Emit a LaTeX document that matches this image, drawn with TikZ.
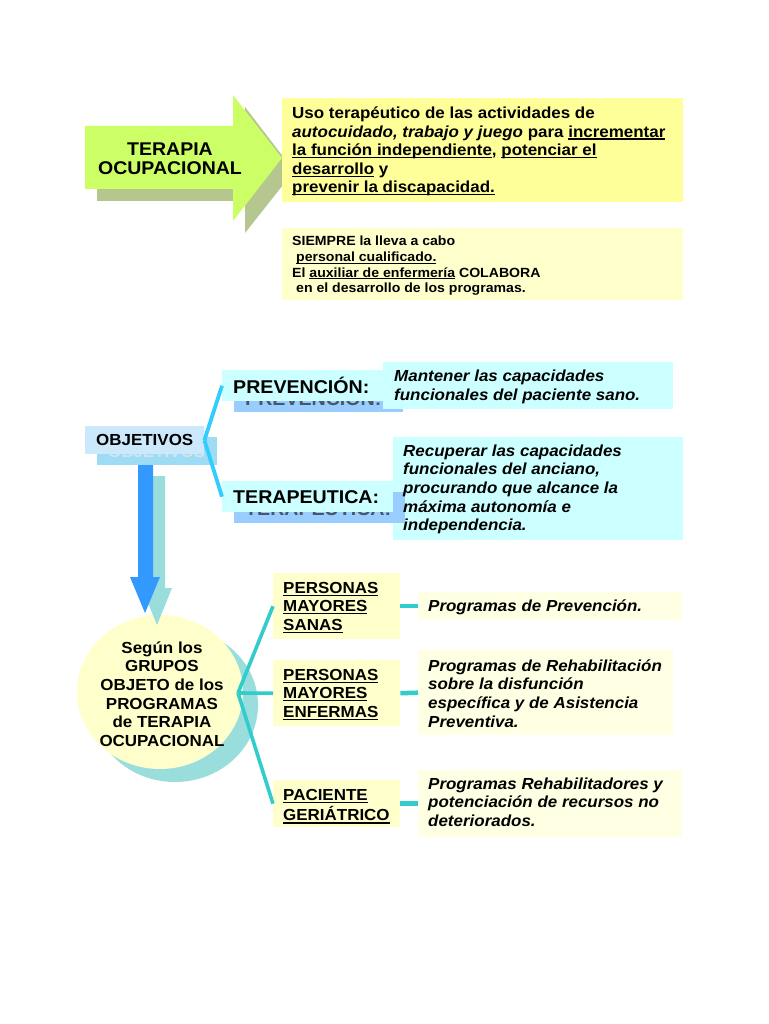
\documentclass[tikz,border=0pt]{standalone}
\usepackage{fontspec}
\setmainfont{Liberation Sans}[FakeStretch=1.06]
\usetikzlibrary{shapes.geometric}
\newcommand\ulx[1]{\leavevmode\setbox0=\hbox{#1}\rlap{\rule[-0.16em]{\wd0}{0.075em}}\box0\relax}
\definecolor{greenmain}{HTML}{CCFF66}
\definecolor{greenshadow}{HTML}{B5C68E}
\definecolor{yel}{HTML}{FFFF99}
\definecolor{paleyel}{HTML}{FFFFCC}
\definecolor{lightyel}{HTML}{FFFFE3}
\definecolor{objblue}{HTML}{CCE9FB}
\definecolor{objshadow}{HTML}{9EDCF6}
\definecolor{objshtext}{HTML}{D2E4EC}
\definecolor{cyanbox}{HTML}{CCFFFF}
\definecolor{prevshadow}{HTML}{99CCFF}
\definecolor{shtext}{HTML}{4A5568}
\definecolor{brkcol}{HTML}{33CCFF}
\definecolor{arrowblue}{HTML}{3399FF}
\definecolor{tealsh}{HTML}{99DDDD}
\definecolor{tealline}{HTML}{33CCCC}
\begin{document}
\begin{tikzpicture}[x=1pt,y=-1pt,
  panel/.style={draw=none, inner sep=0pt, anchor=north west},
  txt/.style={inner sep=0pt, align=left, anchor=north west, font=\bfseries\fontsize{16}{18.6}\selectfont},
  itxt/.style={inner sep=0pt, align=left, anchor=north west, font=\bfseries\itshape\fontsize{16}{18.6}\selectfont},
  stxt/.style={inner sep=0pt, align=left, anchor=north west, font=\bfseries\fontsize{13.3}{15.6}\selectfont},
  headtxt/.style={inner sep=0pt, anchor=base west, font=\bfseries\fontsize{18.5}{22}\selectfont},
  objtxt/.style={inner sep=0pt, anchor=base west, font=\bfseries\fontsize{16}{18.6}\selectfont},
  brk/.style={draw=brkcol, line width=3.8pt, line join=round},
  tline/.style={draw=tealline, line width=3.6pt, line join=round},
  tdash/.style={draw=tealline, line width=4.5pt},
]
\useasboundingbox (0,0) rectangle (768,1024);
\fill[white] (0,0) rectangle (768,1024);

% big green arrow
\fill[greenshadow] (97,138) -- (245,138) -- (245,107) -- (294,171) -- (245,233) -- (245,201) -- (97,201) -- cycle;
\fill[greenmain] (85,126) -- (233,126) -- (233,95) -- (282,158) -- (233,221) -- (233,189) -- (85,189) -- cycle;
\node[inner sep=0pt, align=center, anchor=north, font=\bfseries\fontsize{18.4}{19.3}\selectfont] (tot) at (170,141.5) {\strut TERAPIA\\OCUPACIONAL};

% definition box
\node[panel, fill=yel, minimum width=401pt, minimum height=104pt] (b1) at (282,98) {};
\node[txt] (t1) at (292,105.3) {\strut Uso terapéutico de las actividades de\\
\textit{autocuidado, trabajo y juego} para \ulx{incrementar}\\
\ulx{la función independiente}, \ulx{potenciar el}\\
\ulx{desarrollo} y\\
\ulx{prevenir la discapacidad.}};

% staff box
\node[panel, fill=paleyel, minimum width=401pt, minimum height=72pt] (b2) at (282,228) {};
\node[stxt] (t2) at (292,234.8) {\strut SIEMPRE la lleva a cabo\\
\hspace*{4pt}\ulx{personal cualificado.}\\
El \ulx{auxiliar de enfermería} COLABORA\\
\hspace*{4pt}en el desarrollo de los programas.};

% OBJETIVOS
\node[panel, fill=objshadow, minimum width=120pt, minimum height=28pt] (objsh) at (97,437) {};
\node[objtxt, text=objshtext] (objsht) at (108,457) {OBJETIVOS};
\node[panel, fill=objblue, minimum width=119pt, minimum height=28pt] (obj) at (85,426) {};
\node[objtxt] (objt) at (96,445.8) {OBJETIVOS};

% PREVENCION
\node[panel, fill=prevshadow, minimum width=169pt, minimum height=31pt] (prevsh) at (234,381) {};
\node[headtxt, text=shtext] (prevsht) at (245,405) {PREVENCIÓN:};
\node[panel, fill=cyanbox, minimum width=169pt, minimum height=31pt] (prev) at (222,370) {};
\node[panel, fill=cyanbox, minimum width=290pt, minimum height=47pt] (dprev) at (383,362) {};
\node[headtxt] (prevt) at (233,393.6) {PREVENCIÓN:};
\node[itxt] (dprevt) at (394,368.7) {\strut Mantener las capacidades\\funcionales del paciente sano.};

% TERAPEUTICA
\node[panel, fill=cyanbox, minimum width=290pt, minimum height=103pt] (dter) at (393,437) {};
\node[panel, fill=prevshadow, minimum width=171pt, minimum height=31pt] (tersh) at (234,492) {};
\node[headtxt, text=shtext] (tersht) at (245,515) {TERAPEUTICA:};
\node[panel, fill=cyanbox, minimum width=171pt, minimum height=31pt] (ter) at (222,481) {};
\node[headtxt] (tert) at (233,503.6) {TERAPEUTICA:};
\node[itxt] (dtert) at (403,443) {\strut Recuperar las capacidades\\funcionales del anciano,\\procurando que alcance la\\máxima autonomía e\\independencia.};

% bracket
\draw[brk] (obj.east) -- (prev.west);
\draw[brk] (obj.east) -- (ter.west);

% circle
\node[ellipse, fill=tealsh, minimum width=166pt, minimum height=154pt, inner sep=0pt] (circsh) at (175,705) {};
\node[ellipse, fill=paleyel, minimum width=166pt, minimum height=154pt, inner sep=0pt] (circ) at (160,692) {};
\node[inner sep=0pt, align=center, anchor=north, font=\bfseries\fontsize{16}{18.7}\selectfont] (circt) at (162,639.9) {\strut Según los\\GRUPOS\\OBJETO de los\\PROGRAMAS\\de TERAPIA\\OCUPACIONAL};

% down arrow
\fill[tealsh] (150,476) -- (165,476) -- (165,588) -- (172,588) -- (157,625) -- (142,588) -- (150,588) -- cycle;
\fill[arrowblue] (138,465) -- (153,465) -- (153,577) -- (160,577) -- (145,613) -- (130,577) -- (138,577) -- cycle;

% group boxes
\node[panel, fill=paleyel, minimum width=127pt, minimum height=66pt] (pA) at (273,573) {};
\node[txt] (pAt) at (283,580) {\strut\ulx{PERSONAS}\\\ulx{MAYORES}\\\ulx{SANAS}};
\node[panel, fill=paleyel, minimum width=127pt, minimum height=66pt] (pB) at (273,660) {};
\node[txt] (pBt) at (283,667) {\strut\ulx{PERSONAS}\\\ulx{MAYORES}\\\ulx{ENFERMAS}};
\node[panel, fill=paleyel, minimum width=127pt, minimum height=47pt] (pC) at (273,780) {};
\node[txt] (pCt) at (283,787) {\strut\ulx{PACIENTE}\\\ulx{GERIÁTRICO}};

% program boxes
\node[panel, fill=lightyel, minimum width=264pt, minimum height=28pt] (dA) at (418,592) {};
\node[itxt] (dAt) at (428,598.7) {\strut Programas de Prevención.};
\node[panel, fill=lightyel, minimum width=255pt, minimum height=85pt] (dB) at (418,650) {};
\node[itxt] (dBt) at (428,658) {\strut Programas de Rehabilitación\\sobre la disfunción\\específica y de Asistencia\\Preventiva.};
\node[panel, fill=lightyel, minimum width=264pt, minimum height=67pt] (dC) at (418,770) {};
\node[itxt] (dCt) at (428,776) {\strut Programas Rehabilitadores y\\potenciación de recursos no\\deteriorados.};

% connectors
\coordinate (jn) at (238,693);
\draw[tline] (jn) -- (pA.west);
\draw[tline] (jn) -- (pB.west);
\draw[tline] (jn) -- (pC.west);
\draw[tdash] (pA.east) -- (dA.west);
\draw[tdash] (pB.east) -- (dB.west);
\draw[tdash] (pC.east) -- (dC.west);
\end{tikzpicture}
\end{document}
